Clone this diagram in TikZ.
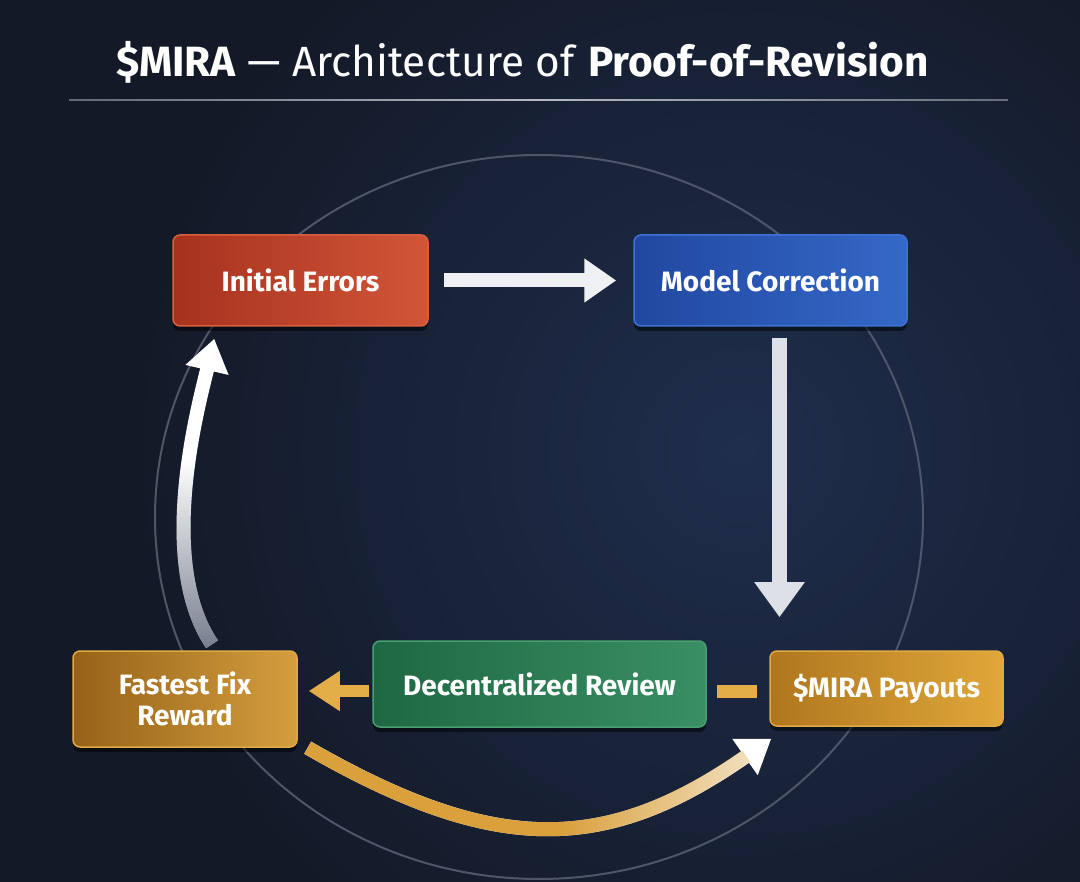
\documentclass[tikz,border=0pt]{standalone}
\usepackage{fontspec}
\setmainfont{Fira Sans}
\usetikzlibrary{arrows.meta,shadows,fadings,calc}

\definecolor{bgdark}{HTML}{131926}
\definecolor{bglight}{HTML}{1F2E4D}
\definecolor{ringgray}{HTML}{4E5669}
\definecolor{rulegray}{HTML}{B4B9C3}
\definecolor{arrowwhite}{HTML}{EEF0F3}
\definecolor{arrowgray}{HTML}{DDE0E6}
\definecolor{backgray}{HTML}{5E6678}
\definecolor{gold}{HTML}{E3AE48}
\definecolor{golddeep}{HTML}{D9A03C}
\definecolor{redline}{HTML}{D9603F}
\definecolor{redlow}{HTML}{A6321E}
\definecolor{redhigh}{HTML}{D25538}
\definecolor{blueline}{HTML}{3E73D6}
\definecolor{bluelow}{HTML}{2148A0}
\definecolor{bluehigh}{HTML}{3468C8}
\definecolor{greenline}{HTML}{48A070}
\definecolor{greenlow}{HTML}{1E6843}
\definecolor{greenhigh}{HTML}{3A8F64}
\definecolor{goldline}{HTML}{E0AA45}
\definecolor{goldlow}{HTML}{966218}
\definecolor{goldhigh}{HTML}{D49E3E}
\definecolor{paylow}{HTML}{B0761E}
\definecolor{payhigh}{HTML}{E0A83A}

% fadings for the rule and the two loop arrows
\pgfdeclarehorizontalshading{rulefadeshade}{100bp}{color(0bp)=(black); color(50bp)=(white); color(100bp)=(black)}
\pgfdeclarefading{rulefade}{\pgfuseshading{rulefadeshade}}
\pgfdeclarehorizontalshading{goldfadeshade}{100bp}{color(0bp)=(white); color(52bp)=(white); color(82bp)=(black); color(100bp)=(black)}
\pgfdeclarefading{goldfade}{\pgfuseshading{goldfadeshade}}
\pgfdeclareverticalshading{grayfadeshade}{100bp}{color(0bp)=(white); color(20bp)=(white); color(55bp)=(black); color(100bp)=(black)}
\pgfdeclarefading{grayfade}{\pgfuseshading{grayfadeshade}}

\tikzset{
  stage/.style={rounded corners=7pt, line width=1.5pt, text=white, inner sep=0pt,
    font=\fontsize{28}{31}\selectfont\bfseries, align=center,
    drop shadow={shadow xshift=0pt, shadow yshift=-5pt, opacity=0.5, fill=black}},
  redstage/.style={stage, draw=redline, left color=redlow, right color=redhigh},
  bluestage/.style={stage, draw=blueline, left color=bluelow, right color=bluehigh},
  greenstage/.style={stage, draw=greenline, left color=greenlow, right color=greenhigh},
  goldstage/.style={stage, draw=goldline, left color=goldlow, right color=goldhigh},
  flowarrow/.style={line width=14pt, -{Triangle[width=42pt,length=32pt]}},
  goldarrow/.style={gold, line width=12pt, -{Triangle[width=38pt,length=31pt]}}
}

\begin{document}
\begin{tikzpicture}[x=1pt,y=-1pt]
% backdrop
\fill[bgdark] (0,0) rectangle (1080,882);
\begin{scope}
  \clip (0,0) rectangle (1080,882);
  \shade[inner color=bglight, outer color=bgdark] (740,450) circle (620pt);
\end{scope}
\useasboundingbox (0,0) rectangle (1080,882);

% title and rule
\node[anchor=base, text=white, font=\fontsize{42.3}{48}\selectfont] (title) at (522.5,77)
  {\textbf{\$MIRA} — Architecture of \textbf{Proof-of-Revision}};
\fill[rulegray, path fading=rulefade] (70,99) rectangle (1010,101.5);

% cycle ring
\draw[ringgray, line width=2pt] (539,517) ellipse [x radius=384pt, y radius=362pt];

% stages
\node[redstage, minimum width=255pt, minimum height=91pt] (errors) at (300.5,280.5) {Initial Errors};
\node[bluestage, minimum width=273pt, minimum height=91pt] (correction) at (770.5,280.5) {Model Correction};
\node[goldstage, minimum width=224pt, minimum height=96pt] (reward) at (185,699) {Fastest Fix\\Reward};
\node[greenstage, minimum width=333pt, minimum height=86pt] (review) at (539.5,684) {Decentralized Review};
\node[goldstage, minimum width=233pt, minimum height=75pt, left color=paylow, right color=payhigh] (payouts) at (886.5,688.5) {\$MIRA Payouts};

% helper points
\coordinate (drop) at ([xshift=9pt]correction.south);
\coordinate (revleft) at ([yshift=-7pt]review.west);
\coordinate (loopstart) at ([xshift=10pt]reward.south east);
\coordinate (looptip) at ([xshift=2pt,yshift=-12pt]payouts.south west);
\coordinate (backstart) at ([xshift=27pt,yshift=6pt]reward.north);
\coordinate (backtip) at ([xshift=42pt,yshift=-12pt]errors.south west);

% connectors
\draw[flowarrow, arrowwhite, shorten <=15pt, shorten >=17pt] (errors.east) -- (correction.west);
\draw[flowarrow, arrowgray, line width=15pt, -{Triangle[width=48pt,length=35pt]}, shorten <=11pt, shorten >=33pt]
  (drop) -- (drop |- payouts.north);
\draw[goldarrow, shorten <=3pt, shorten >=11pt] (revleft) -- (revleft -| reward.east);
\draw[gold, line width=13pt, shorten <=10pt, shorten >=12pt] (revleft -| review.east) -- (revleft -| payouts.west);

% reward loop back to payouts
\draw[flowarrow, white] (loopstart) .. controls (494,855) and (605,855) .. (looptip);
\draw[golddeep, line width=14pt, path fading=goldfade, shorten >=30pt] (loopstart) .. controls (494,855) and (605,855) .. (looptip);

% reward back to errors
\draw[flowarrow, white] (backstart) .. controls (155,560) and (200,400) .. (backtip);
\draw[backgray, line width=14pt, path fading=grayfade, shorten >=30pt] (backstart) .. controls (155,560) and (200,400) .. (backtip);
\end{tikzpicture}
\end{document}
